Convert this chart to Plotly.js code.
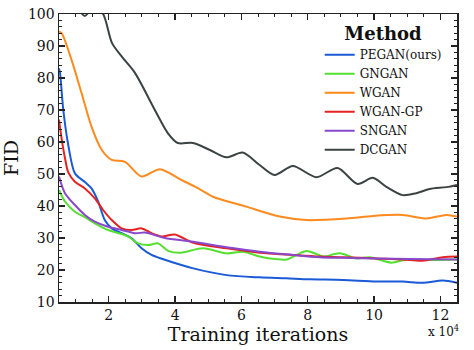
<!DOCTYPE html>
<html>
<head>
<meta charset="utf-8">
<script src="https://cdn.plot.ly/plotly-3.0.1.min.js"></script>
<style>html,body{margin:0;padding:0;background:#fff;}#chart{width:474px;height:350px;}</style>
</head>
<body>
<div id="chart"></div>
<script>
const seriesNames = ["PEGAN(ours)", "GNGAN", "WGAN", "WGAN-GP", "SNGAN", "DCGAN"];
const seriesColors = ["#1a5ad6", "#55e030", "#ff8a1e", "#e52222", "#8848cc", "#3c4343"];

const peganX = [0.5,0.53,0.63,0.78,0.98,1.28,1.48,1.68,1.88,2.09,2.39,2.69,2.99,3.29,3.6,4.55,5.55,6.55,7.36,8.06,9.06,10.07,10.86,11.46,12.07,12.5];
const peganY = [83,81.6,70,59,50.2,47.5,45.5,41.4,35.6,33,31.5,29.9,26.8,24.7,23.5,20.5,18.4,17.7,17.4,17.1,16.9,16.4,16.4,16.0,16.7,16.0];

const gnganX = [0.5,0.68,0.98,1.28,1.58,1.98,2.39,2.59,2.89,3.19,3.49,3.79,4.14,4.85,5.55,6.05,6.55,6.86,7.36,7.66,7.96,8.26,8.46,8.96,9.47,9.87,10.52,10.97,11.57,12.5];
const gnganY = [45,41.4,38.2,36.5,34.6,32.5,31.25,30.4,28.3,27.8,28.3,26,25.4,26.8,25.2,25.7,24.2,23.6,23.3,24.7,25.9,25,24.2,25.2,23.6,24,22.3,23.3,23.1,23.3];

const wganX = [0.5,0.58,0.88,1.18,1.48,1.79,2.09,2.49,2.99,3.54,4.2,4.7,5.14,6.15,7.16,7.96,9.17,9.97,10.86,11.57,12.18,12.5];
const wganY = [94.5,94,85.6,75.3,64.8,57.5,54.4,53.8,49.2,51.5,48.1,45.5,42.9,39.8,36.7,35.6,36.1,36.9,37.2,36.1,37.2,36.7];

const wgangpX = [0.5,0.58,0.68,0.78,0.98,1.28,1.58,1.83,2.09,2.39,2.69,2.99,3.29,3.6,3.99,4.55,5.55,6.55,7.56,8.36,9.06,10.07,10.86,11.46,12.07,12.5];
const wgangpY = [67,61,55,50.5,47.6,45.5,42.4,38.75,35.6,33,32.5,33,31.5,30.5,31.1,28.5,26.8,25.4,24.7,24.2,24.0,23.6,23.3,22.9,24.0,24.2];

const snganX = [0.5,0.68,0.98,1.28,1.58,1.98,2.39,2.79,3.09,3.39,3.69,4.55,5.55,6.55,7.56,8.36,9.06,10.07,11.07,12.5];
const snganY = [49.2,44,40.3,37.2,35.1,33.5,32.5,31.5,31.7,30.9,30.0,28.8,27.1,25.7,24.7,24.0,23.8,23.6,23.4,23.3];

const dcganX = [1.0,1.28,1.55,1.83,2.1,2.4,2.79,3.39,3.78,4.08,4.54,5.05,5.55,6.04,6.55,7.0,7.55,8.26,8.9,9.5,9.96,10.37,10.86,11.27,11.67,12.18,12.5];
const dcganY = [103,99.4,102.5,100,90.9,86.6,81.6,70,62.8,59.7,59.7,57.5,55.2,56.7,52.8,49.7,52.5,49,51.9,46.9,48.8,46,43.4,44,45.3,45.9,46.6];

const xTickVals = [2,4,6,8,10,12];
const yTickVals = [10,20,30,40,50,60,70,80,90,100];

const xs = [peganX, gnganX, wganX, wgangpX, snganX, dcganX];
const ys = [peganY, gnganY, wganY, wgangpY, snganY, dcganY];

const traces = seriesNames.map((n, i) => ({
  x: xs[i], y: ys[i], name: n, type: 'scatter', mode: 'lines',
  line: {color: seriesColors[i], width: 2, shape: 'spline', smoothing: 0.8}
}));

const serif = "DejaVu Serif, serif";
const axisCommon = {
  showline: true, linecolor: '#222', linewidth: 1.5, mirror: 'allticks',
  ticks: 'inside', ticklen: 6, tickwidth: 1.3, tickcolor: '#222',
  showgrid: false, zeroline: false,
  tickfont: {family: serif, size: 14, color: '#111'}
};

const layout = {
  width: 474, height: 350,
  margin: {l: 59, r: 17, t: 14, b: 48},
  paper_bgcolor: '#fff', plot_bgcolor: '#fff',
  showlegend: true,
  xaxis: Object.assign({}, axisCommon, {
    range: [0.5, 12.5], tickvals: xTickVals,
    minor: {ticks: 'inside', dtick: 0.5, tick0: 0, ticklen: 3, tickcolor: '#222', tickwidth: 1},
    title: {text: 'Training iterations', font: {family: serif, size: 19, color: '#111'}, standoff: 2}
  }),
  yaxis: Object.assign({}, axisCommon, {
    range: [10, 100], tickvals: yTickVals,
    minor: {ticks: 'inside', dtick: 2, tick0: 0, ticklen: 3, tickcolor: '#222', tickwidth: 1},
    title: {text: 'FID', font: {family: serif, size: 19, color: '#111'}, standoff: 6}
  }),
  legend: {
    x: 0.655, y: 0.99, xanchor: 'left', yanchor: 'top',
    bgcolor: 'rgba(0,0,0,0)',
    font: {family: serif, size: 12, color: '#111'},
    title: {text: '<b>Method</b>', font: {family: serif, size: 18, color: '#111'}, side: 'top center'},
    tracegroupgap: 0
  },
  annotations: [{
    xref: 'paper', yref: 'paper', x: 1.01, y: -0.065, xanchor: 'right', yanchor: 'top',
    text: 'x 10<sup>4</sup>', showarrow: false, font: {family: serif, size: 12, color: '#111'}
  }]
};

Plotly.newPlot('chart', traces, layout, {displayModeBar: false, staticPlot: true});
</script>
</body>
</html>
